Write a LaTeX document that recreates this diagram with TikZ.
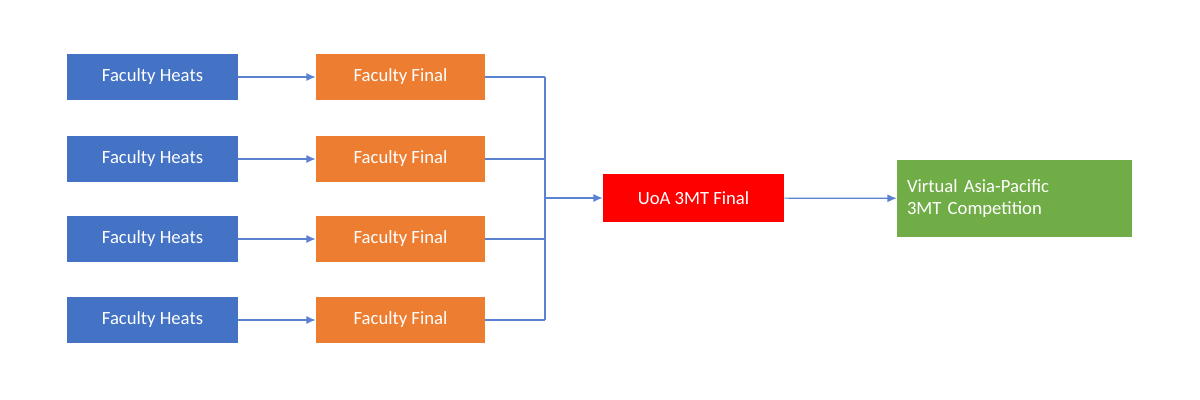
\documentclass[tikz,border=0pt]{standalone}
\usepackage{fontspec}
\setmainfont{Carlito}
\usetikzlibrary{arrows.meta}
\begin{document}
\begin{tikzpicture}[x=0.75pt,y=-0.75pt,
  box/.style={draw=none,fill=#1,text=white,minimum height=46*0.75pt,inner sep=0pt,font=\fontsize{14}{17}\selectfont},
  con/.style={draw={rgb,255:red,91;green,130;blue,210},line width=0.9pt},
  arr/.style={con,-{Latex[length=7pt,width=6pt]}}]
\useasboundingbox (0,0) rectangle (1200,400);
\definecolor{cb}{HTML}{4472C4}\definecolor{co}{HTML}{ED7D31}
\definecolor{cr}{HTML}{FF0000}\definecolor{cg}{HTML}{70AD47}
\foreach \i/\y in {1/77,2/159,3/239,4/320}{
  \node[box=cb,minimum width=171*0.75pt] (h\i) at (152.5,\y) {Faculty Heats};
  \node[box=co,minimum width=169*0.75pt] (f\i) at (400.5,\y) {Faculty Final};
  \draw[arr] (h\i) -- (f\i);
}
\node[box=cr,minimum width=181*0.75pt,minimum height=48*0.75pt] (r) at (693.5,198) {UoA 3MT Final};
\node[box=cg,minimum width=235*0.75pt,minimum height=77*0.75pt,align=left,text width=215*0.75pt] (g) at (1014.5,198.5) {Virtual Asia-Pacific\\3MT Competition};
\coordinate (bt) at (545,77); \coordinate (bb) at (545,320); \coordinate (bm) at (545,198);
\foreach \i in {1,...,4}{\draw[con] (f\i.east) -- (f\i.east -| bm);}
\draw[con] (bt) -- (bb);
\draw[arr] (bm) -- (r);
\draw[arr] (r) -- (g);
\end{tikzpicture}
\end{document}
